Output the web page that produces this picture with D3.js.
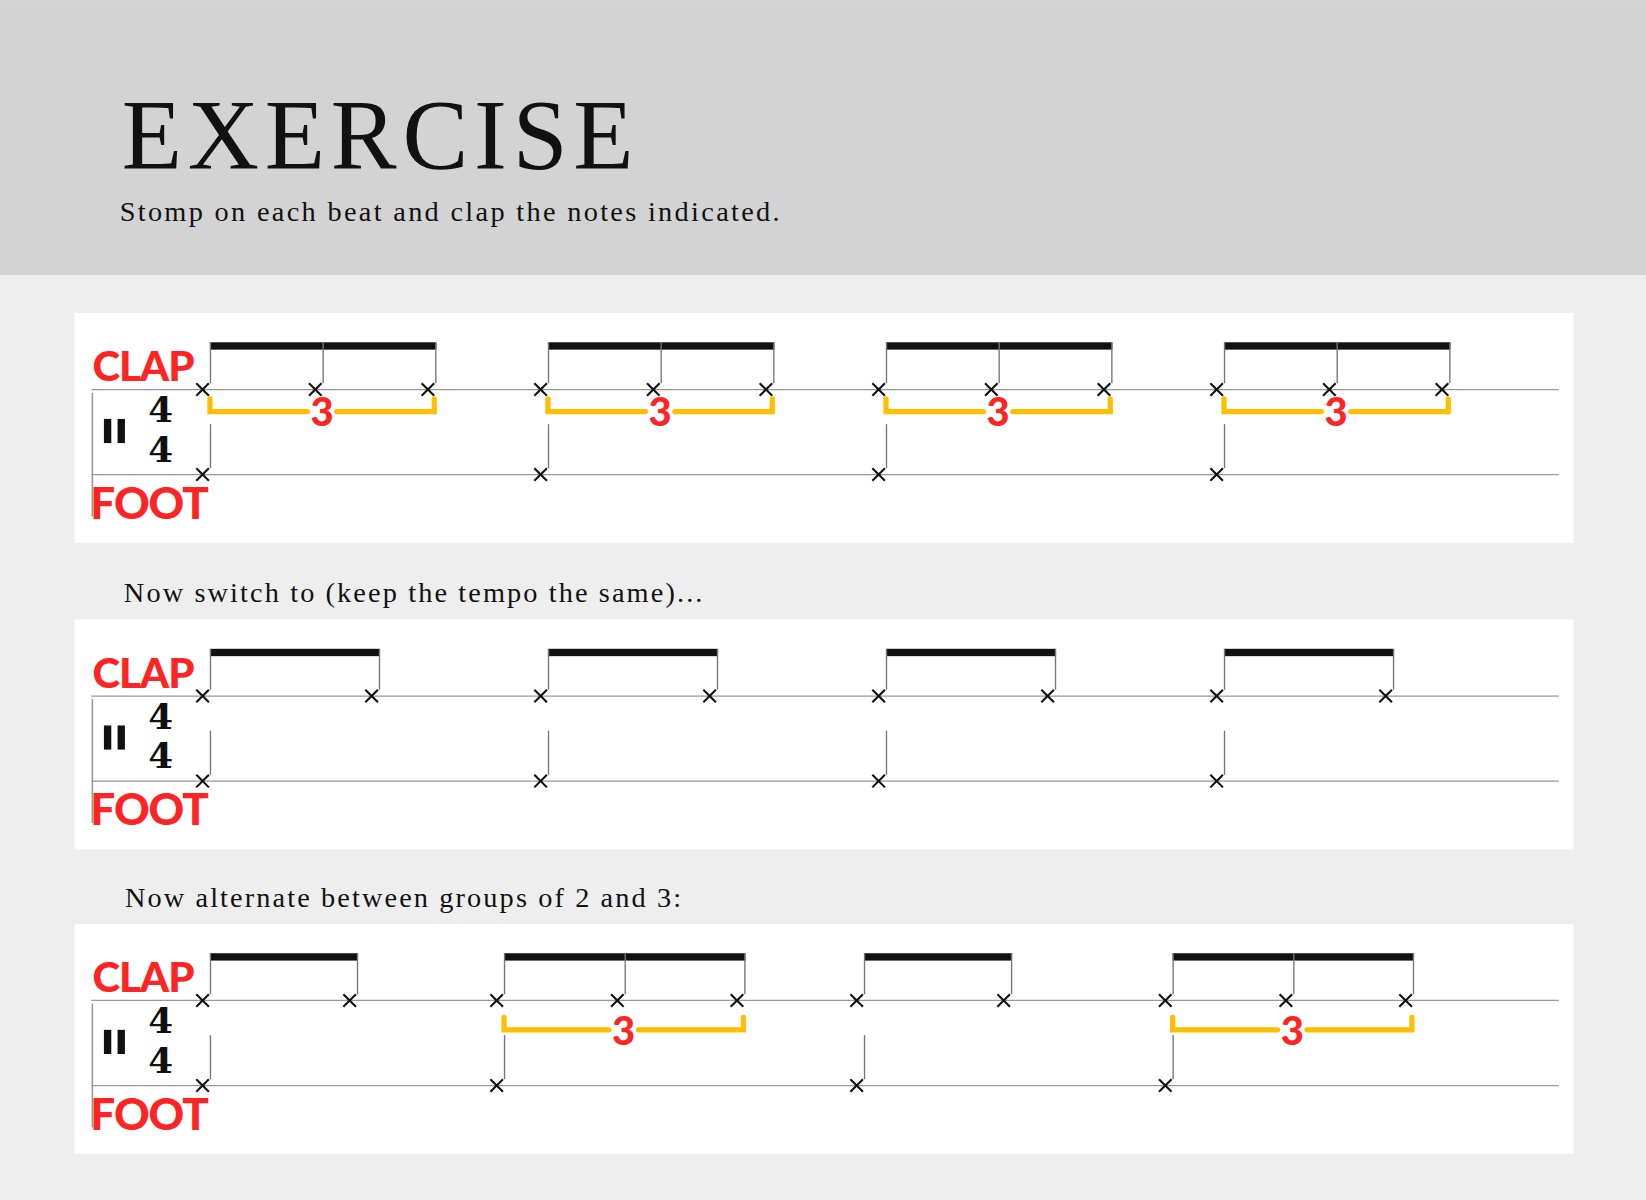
<!DOCTYPE html>
<html><head><meta charset="utf-8">
<script src="https://cdn.jsdelivr.net/npm/d3@7"></script>
<style>body{margin:0;background:#eeeeee}</style>
</head><body>
<svg id="chart"></svg>
<script>
// note onsets in beat units, grouped by beam
const row1Groups = [[0, 1/3, 2/3], [1, 4/3, 5/3], [2, 7/3, 8/3], [3, 10/3, 11/3]]
const row2Groups = [[0, 0.5], [1, 1.5], [2, 2.5], [3, 3.5]]
const row3Groups = [[0, 0.435], [0.87, 1.227, 1.581], [1.935, 2.37], [2.848, 3.205, 3.559]]
const row1Beats = [0, 1, 2, 3]
const row2Beats = [0, 1, 2, 3]
const row3Beats = [0, 0.87, 1.935, 2.848]
const row1Triplets = [true, true, true, true]
const row2Triplets = [false, false, false, false]
const row3Triplets = [false, true, false, true]
const titleText = "EXERCISE"
const subtitleText = "Stomp on each beat and clap the notes indicated."
const captions = ["Now switch to (keep the tempo the same)...", "Now alternate between groups of 2 and 3:"]

const W = 1568, H = 1143
const svg = d3.select("#chart")
  .attr("width", 1646).attr("height", 1200)
  .attr("viewBox", [0, 0, W, H])

svg.append("rect").attr("width", W).attr("height", H).attr("fill", "#eeeeee")
svg.append("rect").attr("width", W).attr("height", 262).attr("fill", "#d3d3d3")
svg.append("text").attr("x", 116).attr("y", 160)
  .attr("font-family", "Liberation Serif, serif").attr("font-size", 94)
  .attr("letter-spacing", 5.5).attr("fill", "#111").text(titleText)
svg.append("text").attr("x", 114).attr("y", 210)
  .attr("font-family", "Liberation Serif, serif").attr("font-size", 27)
  .attr("letter-spacing", 2.2).attr("fill", "#111").text(subtitleText)

const x = d3.scaleLinear().domain([0, 1]).range([193, 515])
const red = "#ff2424", gold = "#ffbf00"

function drawRow(top, groups, beats, triplets, brY){
  const g = svg.append("g").attr("transform", `translate(0,${top})`)
  const clapY = 73, footY = 154, beamY = 28
  g.append("rect").attr("x", 71).attr("width", 1428).attr("height", 219).attr("fill", "#fff")
  g.selectAll("line.staff").data([clapY, footY]).join("line")
    .attr("x1", 87).attr("x2", 1485).attr("y1", d => d).attr("y2", d => d)
    .attr("stroke", "#999").attr("stroke-width", 1.2)
  g.append("line").attr("x1", 88).attr("x2", 88).attr("y1", clapY + 3).attr("y2", footY + 40)
    .attr("stroke", "#999").attr("stroke-width", 1.5)
  g.append("text").attr("x", 88).attr("y", 65).attr("font-family", "Lato, sans-serif")
    .attr("font-weight", 900).attr("font-size", 40).attr("letter-spacing", -1).attr("fill", red).text("CLAP")
  g.append("text").attr("x", 86).attr("y", 196).attr("font-family", "Lato, sans-serif")
    .attr("font-weight", 900).attr("font-size", 42).attr("letter-spacing", -1).attr("fill", red).text("FOOT")
  g.selectAll("rect.bar").data([99, 112]).join("rect")
    .attr("x", d => d).attr("y", 101).attr("width", 7).attr("height", 23).attr("fill", "#111")
  ;[104, 142].forEach(y => g.append("text").attr("x", 153).attr("y", y).attr("text-anchor", "middle")
    .attr("font-family", "DejaVu Serif, serif").attr("font-weight", "bold")
    .attr("font-size", 34).attr("fill", "#111").text("4"))

  const cross = (px, py) => g.append("path")
    .attr("d", `M${px-6},${py-6}L${px+6},${py+6}M${px+6},${py-6}L${px-6},${py+6}`)
    .attr("stroke", "#111").attr("stroke-width", 2)

  groups.forEach((notes, i) => {
    const xs = notes.map(x)
    g.append("rect").attr("x", xs[0] + 7).attr("y", beamY)
      .attr("width", xs[xs.length - 1] - xs[0] + 1).attr("height", 7).attr("fill", "#111")
    xs.forEach(px => {
      g.append("line").attr("x1", px + 7.5).attr("x2", px + 7.5).attr("y1", beamY).attr("y2", clapY - 6)
        .attr("stroke", "#777").attr("stroke-width", 1.3)
      cross(px, clapY)
    })
    if (triplets[i]) {
      const a = xs[0] + 7, b = xs[xs.length - 1] + 6, m = (a + b) / 2
      g.append("path").attr("d", `M${a},${clapY + brY - 12}V${clapY + brY}H${m - 14}M${m + 14},${clapY + brY}H${b}V${clapY + brY - 12}`)
        .attr("fill", "none").attr("stroke", gold).attr("stroke-width", 5).attr("stroke-linecap", "round")
      g.append("text").attr("x", m).attr("y", clapY + brY + 14).attr("text-anchor", "middle")
        .attr("font-family", "Lato, sans-serif").attr("font-weight", 900).attr("font-size", 38)
        .attr("fill", red).text("3")
    }
  })
  beats.forEach(b => {
    const px = x(b)
    g.append("line").attr("x1", px + 7.5).attr("x2", px + 7.5).attr("y1", footY - 48).attr("y2", footY - 6)
      .attr("stroke", "#777").attr("stroke-width", 1.3)
    cross(px, footY)
  })
}

drawRow(298, row1Groups, row1Beats, row1Triplets, 21)
drawRow(590, row2Groups, row2Beats, row2Triplets, 21)
drawRow(880, row3Groups, row3Beats, row3Triplets, 28)

svg.selectAll("text.cap").data(captions).join("text")
  .attr("x", (d, i) => i ? 119 : 118).attr("y", (d, i) => i ? 864 : 573)
  .attr("font-family", "Liberation Serif, serif").attr("font-size", 27)
  .attr("letter-spacing", 2).attr("fill", "#111").text(d => d)
</script>
</body></html>
